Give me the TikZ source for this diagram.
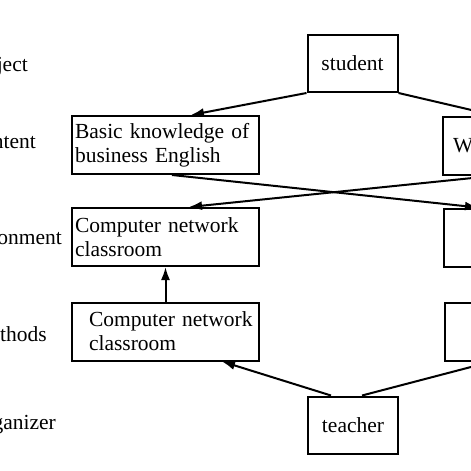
\documentclass[tikz,border=0pt]{standalone}
\usepackage{fontspec}
\setmainfont{Liberation Serif}
\usetikzlibrary{arrows.meta}
\begin{document}
\begin{tikzpicture}[x=1pt,y=-1pt,
    every node/.style={font=\fontsize{21.5}{24}\selectfont},
    box/.style={draw,line width=2pt,minimum width=187pt,minimum height=58pt,
      text width=181pt,inner xsep=3pt,align=left},
    who/.style={draw,line width=2pt,minimum width=90pt,minimum height=57pt},
    row/.style={anchor=east,inner sep=0pt},
    link/.style={line width=2pt,-{Latex[length=13pt,width=9pt]}}]
  \useasboundingbox (0,0) rectangle (471,471);
  \node[row] (r1) at (28,66) {Object};
  \node[row] (r2) at (36,141) {Content};
  \node[row] (r3) at (62,237) {Environment};
  \node[row] (r4) at (47,334) {Methods};
  \node[row] (r5) at (56,425) {Organizer};
  \node[who] (stu) at (352.5,63.5) {student};
  \node[who] (tea) at (353,425) {teacher};
  \node[box] (basic) at (165.5,145) {Basic knowledge of\\business English};
  \node[box] (rcont) at (536.5,145.5) {\hspace*{7pt}W};
  \node[box] (lenv) at (165.5,237) {Computer network\\classroom};
  \node[box] (renv) at (537.5,237.5) {};
  \node[box] (lmeth) at (165.5,331.5)
    {\hspace*{14pt}Computer network\\\hspace*{14pt}classroom};
  \node[box] (rmeth) at (538.5,331.5) {};
  \draw[link] (stu.south west) -- ([xshift=120pt]basic.north west);
  \draw[link] (stu.south east) -- ([xshift=53pt]rcont.north west);
  \draw[link] ([xshift=101pt]basic.south west) -- ([xshift=35pt]renv.north west);
  \draw[link] ([xshift=55pt]rcont.south west) -- ([xshift=118pt]lenv.north west);
  \draw[link] (lmeth.north) -- (lenv.south);
  \draw[link] ([xshift=24pt]tea.north west) -- ([xshift=151pt]lmeth.south west);
  \draw[link] ([xshift=55pt]tea.north west) -- ([xshift=48pt]rmeth.south west);
\end{tikzpicture}
\end{document}
